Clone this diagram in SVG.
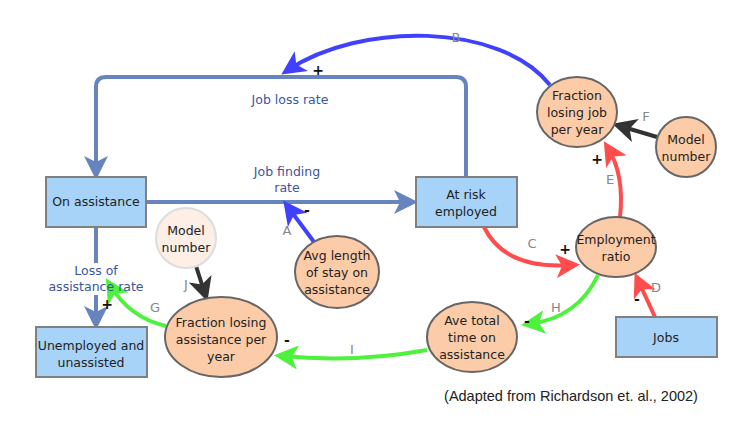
<svg xmlns="http://www.w3.org/2000/svg" width="754" height="431" viewBox="0 0 754 431">
<style>
text{font-family:"DejaVu Sans","Noto Sans",sans-serif;font-size:12.5px;fill:#222;text-anchor:middle}
.box{fill:#a6d3f7;stroke:#808080;stroke-width:2}
.ell{fill:#fccca8;stroke:#666;stroke-width:2}
.flow{fill:none;stroke:#6784bf;stroke-width:4}
.lnk{fill:none;stroke-width:4}
text.fl{fill:#3a55a0}
text.lt{fill:#888;font-size:13px}
text.sg{font-weight:bold;font-size:14px;fill:#111}
</style>
<defs>
<marker id="ms" markerWidth="6" markerHeight="6" refX="4" refY="3" orient="auto" markerUnits="strokeWidth"><path d="M0,0 L6,3 L0,6 L1.5,3z" fill="#6784bf"/></marker>
<marker id="mb" markerWidth="6" markerHeight="6" refX="4" refY="3" orient="auto" markerUnits="strokeWidth"><path d="M0,0 L6,3 L0,6 L1.5,3z" fill="#4040ff"/></marker>
<marker id="mr" markerWidth="6" markerHeight="6" refX="4" refY="3" orient="auto" markerUnits="strokeWidth"><path d="M0,0 L6,3 L0,6 L1.5,3z" fill="#ff4d4d"/></marker>
<marker id="mg" markerWidth="6" markerHeight="6" refX="4" refY="3" orient="auto" markerUnits="strokeWidth"><path d="M0,0 L6,3 L0,6 L1.5,3z" fill="#4df23c"/></marker>
<marker id="mk" markerWidth="6" markerHeight="6" refX="4" refY="3" orient="auto" markerUnits="strokeWidth"><path d="M0,0 L6,3 L0,6 L1.5,3z" fill="#333"/></marker>
</defs>
<g id="connectors">
<path class="flow" d="M466,177 V87 Q466,77 456,77 H106 Q96,77 96,87 V172" marker-end="url(#ms)"/>
<path class="flow" d="M146,202 H410" marker-end="url(#ms)"/>
<path class="flow" d="M96,227 V322" marker-end="url(#ms)"/>
<rect x="40" y="263" width="114" height="32" fill="#fff"/>
<path class="lnk" stroke="#4040ff" d="M550,85 C500,22 360,22 288,70" marker-end="url(#mb)"/>
<path class="lnk" stroke="#4040ff" d="M314,242 L288,207" marker-end="url(#mb)"/>
<path class="lnk" stroke="#ff4d4d" d="M484,227 Q505,270 572,265" marker-end="url(#mr)"/>
<path class="lnk" stroke="#ff4d4d" d="M655,317 L638,280" marker-end="url(#mr)"/>
<path class="lnk" stroke="#ff4d4d" d="M620,217 C623,190 619,166 608,148" marker-end="url(#mr)"/>
<path class="lnk" stroke="#333" d="M657,137 L620,126" marker-end="url(#mk)"/>
<path class="lnk" stroke="#4df23c" d="M598,275 Q578,318 529,324" marker-end="url(#mg)"/>
<path class="lnk" stroke="#4df23c" d="M427,350 Q355,363 282,356" marker-end="url(#mg)"/>
<path class="lnk" stroke="#4df23c" d="M166,326 Q130,318 110,285" marker-end="url(#mg)"/>
<path class="lnk" stroke="#333" d="M196,266 L205,294" marker-end="url(#mk)"/>
<text class="fl" x="290" y="104">Job loss rate</text>
<text class="fl" x="287" y="176">Job finding</text>
<text class="fl" x="287" y="192">rate</text>
<text class="fl" x="96" y="275">Loss of</text>
<text class="fl" x="96" y="291">assistance rate</text>
<text class="lt" x="456" y="42">B</text><text class="sg" x="318" y="75">+</text>
<text class="lt" x="287" y="235">A</text><text class="sg" x="307" y="215">-</text>
<text class="lt" x="532" y="248">C</text><text class="sg" x="565" y="254">+</text>
<text class="lt" x="656" y="292">D</text><text class="sg" x="637" y="304">-</text>
<text class="lt" x="610" y="184">E</text><text class="sg" x="597" y="164">+</text>
<text class="lt" x="646" y="121">F</text>
<text class="lt" x="556" y="312">H</text><text class="sg" x="527" y="326">-</text>
<text class="lt" x="352" y="354">I</text><text class="sg" x="287" y="345">-</text>
<text class="lt" x="155" y="312">G</text><text class="sg" x="107" y="309">+</text>
<text class="lt" x="186" y="289">J</text>
</g>
<g id="on-assistance"><rect class="box" x="46" y="177" width="100" height="50"/><text x="96" y="206">On assistance</text></g>
<g id="at-risk"><rect class="box" x="416" y="177" width="101" height="50"/><text x="466" y="199">At risk</text><text x="466" y="216">employed</text></g>
<g id="unemployed"><rect class="box" x="36" y="327" width="111" height="50"/><text x="91" y="350">Unemployed and</text><text x="91" y="367">unassisted</text></g>
<g id="jobs"><rect class="box" x="616" y="317" width="101" height="40"/><text x="666" y="342">Jobs</text></g>
<g id="frac-job"><ellipse class="ell" cx="577" cy="112" rx="40" ry="35"/><text x="577" y="100">Fraction</text><text x="577" y="117">losing job</text><text x="577" y="134">per year</text></g>
<g id="model-r"><ellipse class="ell" cx="686" cy="147" rx="30" ry="30"/><text x="686" y="144">Model</text><text x="686" y="161">number</text></g>
<g id="emp-ratio"><ellipse class="ell" cx="616" cy="247" rx="40" ry="30"/><text x="616" y="244">Employment</text><text x="616" y="261">ratio</text></g>
<g id="ave-total"><ellipse class="ell" cx="472" cy="337" rx="45" ry="35"/><text x="472" y="325">Ave total</text><text x="472" y="342">time on</text><text x="472" y="359">assistance</text></g>
<g id="avg-length"><ellipse class="ell" cx="337" cy="272" rx="42" ry="36"/><text x="337" y="260">Avg length</text><text x="337" y="277">of stay on</text><text x="337" y="294">assistance</text></g>
<g id="frac-assist"><ellipse class="ell" cx="221" cy="337" rx="56" ry="40"/><text x="221" y="327">Fraction losing</text><text x="221" y="344">assistance per</text><text x="221" y="361">year</text></g>
<g id="model-l"><ellipse cx="186" cy="238" rx="30" ry="30" fill="#fdeee6" stroke="#ddd" stroke-width="2"/><text x="186" y="235">Model</text><text x="186" y="252">number</text></g>
<text x="571" y="401" style="font-family:'Liberation Sans',Arial,sans-serif;font-size:14.5px">(Adapted from Richardson et. al., 2002)</text>
</svg>
